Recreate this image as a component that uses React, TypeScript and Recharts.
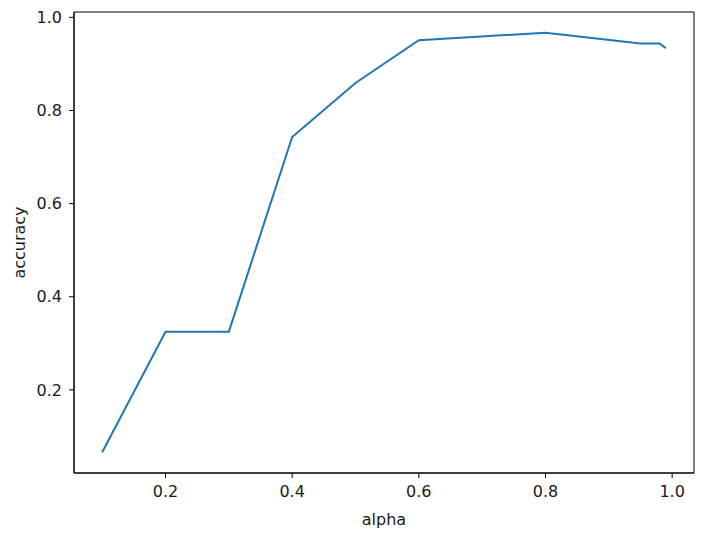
import React from 'react';
import { LineChart, Line, XAxis, YAxis, Label, ReferenceArea } from 'recharts';

const alphas = [0.1, 0.2, 0.3, 0.4, 0.5, 0.6, 0.8, 0.95, 0.98, 0.99];
const accuracy = [0.066, 0.325, 0.325, 0.743, 0.859, 0.951, 0.967, 0.944, 0.944, 0.934];
const xTicks = [0.2, 0.4, 0.6, 0.8, 1.0];
const yTicks = [0.2, 0.4, 0.6, 0.8, 1.0];

const data = alphas.map((a, i) => ({ alpha: a, accuracy: accuracy[i] }));

const FONT = 'DejaVu Sans, sans-serif';
const TEXT = '#1a1a1a';
const fmt = (v: number) => v.toFixed(1);

export default function App() {
  const xDomain = [0.0555, 1.0345];
  const yDomain = [0.0215, 1.0115];
  return (
    <div style={{ position: 'absolute', left: 0, top: 0 }}>
      <LineChart width={707} height={535} data={data} margin={{ top: 12, right: 13, bottom: 0, left: 0 }}>
        <XAxis
          dataKey="alpha"
          type="number"
          domain={xDomain}
          ticks={xTicks}
          tickFormatter={fmt}
          allowDataOverflow
          height={62}
          tickSize={5}
          tickMargin={8}
          stroke="#000"
          tick={{ fill: TEXT, fontSize: 16, fontFamily: FONT }}
        >
          <Label
            content={(props: any) => {
              const vb = props.viewBox;
              return (
                <text x={vb.x + vb.width / 2} y={525} textAnchor="middle" fontSize={16} fontFamily={FONT} fill={TEXT}>
                  alpha
                </text>
              );
            }}
          />
        </XAxis>
        <YAxis
          type="number"
          domain={yDomain}
          ticks={yTicks}
          tickFormatter={fmt}
          allowDataOverflow
          width={74}
          tickSize={5}
          tickMargin={7}
          stroke="#000"
          tick={{ fill: TEXT, fontSize: 16, fontFamily: FONT }}
        >
          <Label
            content={(props: any) => {
              const vb = props.viewBox;
              const cy = vb.y + vb.height / 2;
              return (
                <text x={25} y={cy} transform={`rotate(-90, 25, ${cy})`} textAnchor="middle" fontSize={16} fontFamily={FONT} fill={TEXT}>
                  accuracy
                </text>
              );
            }}
          />
        </YAxis>
        <ReferenceArea
          x1={xDomain[0]}
          x2={xDomain[1]}
          y1={yDomain[0]}
          y2={yDomain[1]}
          fill="none"
          fillOpacity={0}
          stroke="#000"
          strokeWidth={1}
          ifOverflow="visible"
        />
        <Line
          type="linear"
          dataKey="accuracy"
          stroke="#1f77b4"
          strokeWidth={2}
          dot={false}
          isAnimationActive={false}
        />
      </LineChart>
    </div>
  );
}
